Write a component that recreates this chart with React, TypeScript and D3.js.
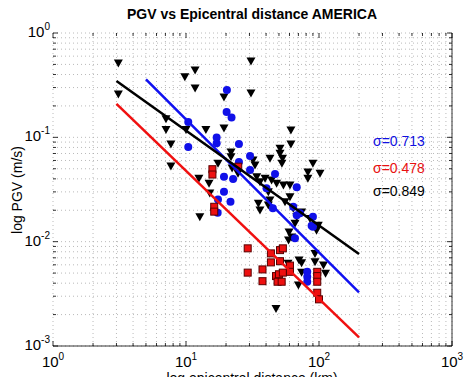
import React from 'react';
import * as d3 from 'd3';

// ---- data ----
const xTickValues = [1, 10, 100, 1000];
const xTickExps = ['0', '1', '2', '3'];
const yTickValues = [1, 0.1, 0.01, 0.001];
const yTickExps = ['0', '-1', '-2', '-3'];

// black triangles (all-data group)
const triX = [3.1, 3.1, 9.8, 11.7, 11.7, 30.8, 30.8, 7.07, 7.07, 10, 7.7, 7.7, 12.5, 12.7, 14.1, 19.3, 19.3, 14.9, 15.1, 17.4,
  21.8, 21.8, 22.2, 24.6, 50.9, 50.9, 53.2, 52.6, 61.5, 61.5, 90, 82.5, 82.5, 101.8, 42.8, 31.9, 33, 34, 36, 39.3,
  44, 48, 54, 60.5, 41.6, 60.5, 55.5, 42.8, 41.6, 35, 36, 64, 68, 74, 85.6, 98.7, 95.8, 66, 59.5, 62.3,
  59, 70.8, 74, 93.3, 93.3, 108, 112, 74, 70, 47.5, 58.5];
const triY = [0.516, 0.26, 0.38, 0.442, 0.297, 0.539, 0.266, 0.151, 0.119, 0.119, 0.0863, 0.053, 0.0405, 0.0173, 0.119, 0.123, 0.244, 0.0362, 0.0292, 0.0563,
  0.0723, 0.065, 0.0508, 0.0452, 0.0784, 0.0703, 0.0629, 0.0563, 0.0863, 0.1175, 0.0563, 0.0465, 0.0405, 0.0452, 0.0629, 0.0606, 0.0542, 0.0419, 0.0375, 0.0405,
  0.039, 0.0362, 0.0349, 0.0349, 0.0301, 0.0269, 0.0241, 0.0251, 0.0224, 0.0233, 0.0201, 0.0209, 0.0173, 0.0192, 0.0167, 0.0144, 0.0129, 0.015, 0.0124, 0.0111,
  0.0104, 0.00667, 0.00628, 0.00772, 0.00642, 0.00597, 0.00497, 0.0051, 0.00384, 0.00229, 0.0062];

// blue circles
const circX = [20.3, 20.2, 22, 10.4, 17, 17, 10.4, 25, 30.3, 25, 30.3, 19.3, 22.6, 46.7, 40.3, 68, 19.3, 21.6, 17.3, 17.4,
  64, 90, 90, 68, 45, 72, 66, 81.6, 81.6, 81.6, 88];
const circY = [0.284, 0.175, 0.155, 0.14, 0.0995, 0.0876, 0.0807, 0.0863, 0.0662, 0.058, 0.0486, 0.0419, 0.0398, 0.0446, 0.0325, 0.0332, 0.0301, 0.0241, 0.0189, 0.0254,
  0.0216, 0.0173, 0.0139, 0.0179, 0.0209, 0.0187, 0.0108, 0.00514, 0.00461, 0.00413, 0.0142];

// red squares
const sqX = [15.8, 15.8, 16.3, 16.3, 24.7, 29.1, 29.1, 37.6, 37.6, 43.5, 43.5, 50.9, 53.5, 50.9, 47.5, 50, 53.5, 48.8, 52.4, 60.5,
  60.5, 97, 97, 97, 97, 100];
const sqY = [0.0495, 0.044, 0.0216, 0.0194, 0.0523, 0.00863, 0.00505, 0.00542, 0.00418, 0.00772, 0.00633, 0.0083, 0.00863, 0.0065, 0.00468, 0.00487, 0.00505, 0.00413, 0.00413, 0.0059,
  0.00514, 0.00514, 0.00468, 0.00413, 0.00324, 0.0028];

// regression lines
const blueFitX = [5, 200];
const blueFitY = [0.36, 0.00327];
const redFitX = [3, 200];
const redFitY = [0.209, 0.00121];
const blackFitX = [3, 200];
const blackFitY = [0.347, 0.0076];

const sigmaLabels = ['σ=0.713', 'σ=0.478', 'σ=0.849'];
const sigmaColors = ['#1010e0', '#e81010', '#000000'];

const FONT = "'Liberation Sans', Arial, Helvetica, sans-serif";

export default function App() {
  const W = 474, H = 377;
  const left = 53, right = 452, top = 33, bottom = 346;
  const x = d3.scaleLog().domain([1, 1000]).range([left, right]);
  const y = d3.scaleLog().domain([0.001, 1]).range([bottom, top]);

  const minorX: number[] = [];
  for (let d = 1; d < 1000; d *= 10) for (let k = 2; k <= 9; k++) minorX.push(d * k);
  const minorY: number[] = [];
  for (let d = 0.001; d < 0.9; d *= 10) for (let k = 2; k <= 9; k++) minorY.push(d * k);

  const line = d3.line<[number, number]>().x(d => x(d[0])).y(d => y(d[1]));
  const fit = (xs: number[], ys: number[]) => line(xs.map((v, i) => [v, ys[i]] as [number, number])) || '';

  const gridStyle = { stroke: '#a8a8a8', strokeWidth: 0.8, strokeDasharray: '1,3' };

  return (
    <svg width={W} height={H} style={{ position: 'absolute', left: 0, top: 0, background: '#fff' }} fontFamily={FONT}>
      <rect x={0} y={0} width={W} height={H} fill="#fff" />
      {/* grid */}
      <g>
        {[...xTickValues, ...minorX].map((v, i) => (
          <line key={'gx' + i} x1={x(v)} x2={x(v)} y1={top} y2={bottom} style={gridStyle} />
        ))}
        {[...yTickValues, ...minorY].map((v, i) => (
          <line key={'gy' + i} x1={left} x2={right} y1={y(v)} y2={y(v)} style={gridStyle} />
        ))}
      </g>
      {/* ticks */}
      <g stroke="#000" strokeWidth={0.8}>
        {xTickValues.map((v, i) => (
          <g key={'tx' + i}>
            <line x1={x(v)} x2={x(v)} y1={bottom} y2={bottom - 5} />
            <line x1={x(v)} x2={x(v)} y1={top} y2={top + 5} />
          </g>
        ))}
        {minorX.map((v, i) => (
          <g key={'mx' + i}>
            <line x1={x(v)} x2={x(v)} y1={bottom} y2={bottom - 3} />
            <line x1={x(v)} x2={x(v)} y1={top} y2={top + 3} />
          </g>
        ))}
        {yTickValues.map((v, i) => (
          <g key={'ty' + i}>
            <line x1={left} x2={left + 5} y1={y(v)} y2={y(v)} />
            <line x1={right} x2={right - 5} y1={y(v)} y2={y(v)} />
          </g>
        ))}
        {minorY.map((v, i) => (
          <g key={'my' + i}>
            <line x1={left} x2={left + 3} y1={y(v)} y2={y(v)} />
            <line x1={right} x2={right - 3} y1={y(v)} y2={y(v)} />
          </g>
        ))}
        <line x1={left} x2={right} y1={bottom} y2={bottom} />
        <line x1={right} x2={right} y1={top} y2={bottom} />
      </g>
      {/* markers */}
      <g>
        {triX.map((v, i) => {
          const cx = x(v), cy = y(triY[i]);
          return <path key={'t' + i} d={`M${cx - 4.5},${cy - 3.5}L${cx + 4.5},${cy - 3.5}L${cx},${cy + 4.5}Z`} fill="#000" />;
        })}
        {circX.map((v, i) => (
          <circle key={'c' + i} cx={x(v)} cy={y(circY[i])} r={4} fill="#1010e8" />
        ))}
        {sqX.map((v, i) => (
          <rect key={'s' + i} x={x(v) - 3.5} y={y(sqY[i]) - 3.5} width={7} height={7} fill="#ee1010" stroke="#5a0000" strokeWidth={1} />
        ))}
      </g>
      {/* fit lines */}
      <path d={fit(blueFitX, blueFitY)} stroke="#1010f0" strokeWidth={2.5} fill="none" />
      <path d={fit(blackFitX, blackFitY)} stroke="#000" strokeWidth={2.5} fill="none" />
      <path d={fit(redFitX, redFitY)} stroke="#f01010" strokeWidth={2.5} fill="none" />
      {/* sigma labels */}
      {sigmaLabels.map((s, i) => (
        <text key={'sg' + i} x={373} y={[146, 173, 196][i]} fontSize={14} fill={sigmaColors[i]}>{s}</text>
      ))}
      {/* tick labels */}
      {xTickValues.map((v, i) => (
        <text key={'xl' + i} x={x(v)} y={367} fontSize={15} textAnchor="middle" fill="#000">
          10<tspan dy={-7} fontSize={10}>{xTickExps[i]}</tspan>
        </text>
      ))}
      {yTickValues.map((v, i) => (
        <text key={'yl' + i} x={50} y={y(v) + 4} fontSize={15} textAnchor="end" fill="#000">
          10<tspan dy={-7} fontSize={10}>{yTickExps[i]}</tspan>
        </text>
      ))}
      {/* titles */}
      <text x={252} y={19} fontSize={14} fontWeight="bold" textAnchor="middle" fill="#000">PGV vs Epicentral distance AMERICA</text>
      <text x={252} y={383} fontSize={14} textAnchor="middle" fill="#000">log epicentral distance (km)</text>
      <text transform="translate(22,190) rotate(-90)" fontSize={14} textAnchor="middle" fill="#000">log PGV (m/s)</text>
    </svg>
  );
}
